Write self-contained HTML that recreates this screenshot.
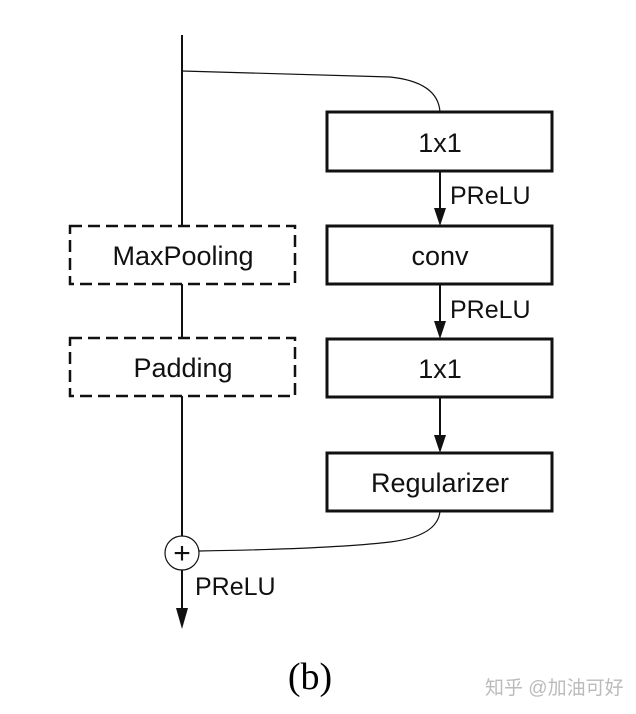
<!DOCTYPE html>
<html><head><meta charset="utf-8"><style>body{margin:0;background:#fff}svg{display:block}</style></head><body>
<svg width="636" height="714" viewBox="0 0 636 714" xmlns="http://www.w3.org/2000/svg">
<g stroke="#111" fill="none">
<line x1="182" y1="35" x2="182" y2="226" stroke-width="2"/>
<line x1="182" y1="284" x2="182" y2="339" stroke-width="2"/>
<line x1="182" y1="396" x2="182" y2="536" stroke-width="2"/>
<line x1="182" y1="570" x2="182" y2="612" stroke-width="2"/>
<circle cx="182" cy="553" r="17" stroke-width="1.2"/>
<path d="M182 71 L390 77 Q438 82 440 112" stroke-width="1.2"/>
<path d="M440 511 Q438 536 390 542 Q330 549 199 551" stroke-width="1.2"/>
<rect x="327" y="112" width="225" height="59" stroke-width="3"/>
<rect x="327" y="226" width="225" height="58" stroke-width="3"/>
<rect x="327" y="339" width="225" height="58" stroke-width="3"/>
<rect x="327" y="453" width="225" height="58" stroke-width="3"/>
<rect x="70" y="226" width="225" height="58" stroke-width="2.5" stroke-dasharray="12,6"/>
<rect x="70" y="338" width="225" height="58" stroke-width="2.5" stroke-dasharray="12,6"/>
<line x1="440" y1="171" x2="440" y2="210" stroke-width="2"/>
<line x1="440" y1="284" x2="440" y2="323" stroke-width="2"/>
<line x1="440" y1="397" x2="440" y2="437" stroke-width="2"/>
</g>
<g fill="#111">
<polygon points="434,208 446,208 440,226"/>
<polygon points="434,321 446,321 440,339"/>
<polygon points="434,435 446,435 440,453"/>
<polygon points="176,608 188,608 182,629"/>
</g>
<g font-family="Liberation Sans, sans-serif" font-size="27" fill="#111" text-anchor="middle">
<text x="440" y="152">1x1</text>
<text x="440" y="265">conv</text>
<text x="440" y="378">1x1</text>
<text x="440" y="492">Regularizer</text>
<text x="183" y="265">MaxPooling</text>
<text x="183" y="377">Padding</text>
</g>
<g font-family="Liberation Sans, sans-serif" font-size="25" fill="#111">
<text x="450" y="204">PReLU</text>
<text x="450" y="318">PReLU</text>
<text x="195" y="595">PReLU</text>
</g>
<text x="182" y="563" font-family="Liberation Sans, sans-serif" font-size="30" text-anchor="middle" fill="#111">+</text>
<text x="310" y="689" font-family="Liberation Serif, serif" font-size="38" text-anchor="middle" fill="#000">(b)</text>
<text x="485" y="694" font-family="Liberation Sans, 'Noto Sans CJK SC', sans-serif" font-size="19" fill="#bbb">知乎 @加油可好</text>
</svg>
</body></html>
